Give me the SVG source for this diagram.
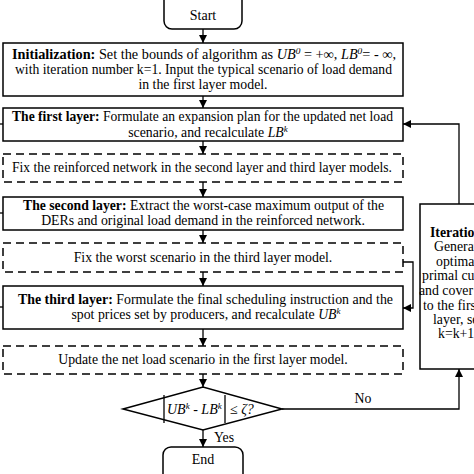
<svg xmlns="http://www.w3.org/2000/svg" width="474" height="474" viewBox="0 0 474 474">
<defs>
<marker id="ah" viewBox="0 0 10 10" refX="10" refY="5" markerWidth="8" markerHeight="8" markerUnits="userSpaceOnUse" orient="auto">
<path d="M0,0 L10,5 L0,10 Z" fill="#000"/>
</marker>
</defs>
<style>
.b{fill:#fff;stroke:#000;stroke-width:1.5}
.d{fill:#fff;stroke:#000;stroke-width:1.5;stroke-dasharray:8 5}
.c{fill:none;stroke:#000;stroke-width:1.3;marker-end:url(#ah)}
.l{fill:none;stroke:#000;stroke-width:1.3}
text{font-family:"Liberation Serif","Times New Roman",serif;font-size:13.8px;fill:#000}
.m{text-anchor:middle}
.bd{font-weight:bold}
.i{font-style:italic}
.it{font-size:13.8px}
</style>
<rect width="474" height="474" fill="#fff"/>
<g id="connectors">
<line class="c" x1="203" y1="29" x2="203" y2="43"/>
<line class="c" x1="203" y1="96" x2="203" y2="108"/>
<line class="c" x1="203" y1="141" x2="203" y2="154"/>
<line class="c" x1="203" y1="182" x2="203" y2="197"/>
<line class="c" x1="203" y1="230" x2="203" y2="243"/>
<line class="c" x1="203" y1="272" x2="203" y2="286"/>
<line class="c" x1="203" y1="329" x2="203" y2="346"/>
<line class="c" x1="203" y1="374" x2="203" y2="387"/>
<line class="c" x1="203" y1="430" x2="203" y2="447"/>
<polyline class="c" points="282,409 459,409 459,369"/>
<polyline class="c" points="459,204 459,124 403,124"/>
<polyline class="c" points="403,262 413,262 413,308 403,308"/>
<line class="l" x1="0" y1="124" x2="3" y2="124"/>
<line class="l" x1="0" y1="213" x2="3" y2="213"/>
<line class="l" x1="0" y1="307" x2="3" y2="307"/>
<text x="363" y="403" class="m">No</text>
<text x="224" y="442" class="m">Yes</text>
</g>
<g id="start">
<rect class="b" x="164" y="-10" width="78" height="39" rx="8"/>
<text x="203" y="20" class="m" style="font-size:14px">Start</text>
</g>
<g id="init">
<rect class="b" x="3" y="43" width="400" height="53"/>
<text x="12" y="59" textLength="384" lengthAdjust="spacingAndGlyphs"><tspan class="bd">Initialization:</tspan> Set the bounds of algorithm as  <tspan class="i">UB</tspan><tspan class="i" dy="-5" font-size="9">0</tspan><tspan dy="5"> = +∞,   </tspan><tspan class="i">LB</tspan><tspan class="i" dy="-5" font-size="9">0</tspan><tspan dy="5">= - ∞,</tspan></text>
<text x="15" y="74" textLength="377" lengthAdjust="spacingAndGlyphs">with iteration number k=1. Input the typical scenario of load demand</text>
<text x="203" y="89" class="m">in the first layer model.</text>
</g>
<g id="layer1">
<rect class="b" x="3" y="108" width="400" height="33"/>
<text x="12" y="121" textLength="381" lengthAdjust="spacingAndGlyphs"><tspan class="bd">The first layer:</tspan> Formulate an expansion plan for the updated net load</text>
<text x="208" y="137" class="m">scenario, and recalculate <tspan class="i">LB</tspan><tspan class="i" dy="-5" font-size="9">k</tspan></text>
</g>
<g id="fix1">
<rect class="d" x="3" y="154" width="400" height="28"/>
<text x="12" y="172" textLength="380" lengthAdjust="spacingAndGlyphs">Fix the reinforced network in the second layer and third layer models.</text>
</g>
<g id="layer2">
<rect class="b" x="3" y="197" width="400" height="33"/>
<text x="23" y="210" textLength="361" lengthAdjust="spacingAndGlyphs"><tspan class="bd">The second layer:</tspan> Extract the worst-case maximum output of the</text>
<text x="203" y="225" class="m">DERs and original load demand in the reinforced network.</text>
</g>
<g id="fix2">
<rect class="d" x="3" y="243" width="400" height="29"/>
<text x="203" y="262" class="m">Fix the worst scenario in the third layer model.</text>
</g>
<g id="layer3">
<rect class="b" x="3" y="286" width="400" height="43"/>
<text x="18" y="304" textLength="375" lengthAdjust="spacingAndGlyphs"><tspan class="bd">The third layer:</tspan> Formulate the final scheduling instruction and the</text>
<text x="206" y="319" class="m">spot prices set by producers, and recalculate <tspan class="i">UB</tspan><tspan class="i" dy="-5" font-size="9">k</tspan></text>
</g>
<g id="fix3">
<rect class="d" x="3" y="346" width="400" height="28"/>
<text x="203" y="364" class="m">Update the net load scenario in the first layer model.</text>
</g>
<g id="decision">
<polygon class="b" points="123,409 203,387 282,409 203,430"/>
<line class="l" x1="164" y1="395" x2="164" y2="423"/>
<line class="l" x1="225" y1="395" x2="225" y2="423"/>
<text x="167" y="414" style="font-size:14px"><tspan class="i">UB</tspan><tspan class="i" dy="-5" font-size="9">k</tspan><tspan dy="5"> - </tspan><tspan class="i">LB</tspan><tspan class="i" dy="-5" font-size="9">k</tspan></text>
<text x="230" y="414" class="i" style="font-size:14px">≤ ζ?</text>
</g>
<g id="end">
<rect class="b" x="163" y="447" width="80" height="36" rx="8"/>
<text x="203" y="464" class="m" style="font-size:14px">End</text>
</g>
<g id="iteration">
<rect class="b" x="420" y="204" width="70" height="165"/>
<text x="430" y="237" class="bd it">Iteration:</text>
<text x="434" y="251" class="it">Generate</text>
<text x="436" y="266" class="it">optimality</text>
<text x="422" y="280" class="it">primal cuts</text>
<text x="419" y="295" class="it">and cover them</text>
<text x="423" y="310" class="it">to the first</text>
<text x="433" y="324" class="it">layer, set</text>
<text x="438" y="338" class="it">k=k+1</text>
</g>
</svg>
